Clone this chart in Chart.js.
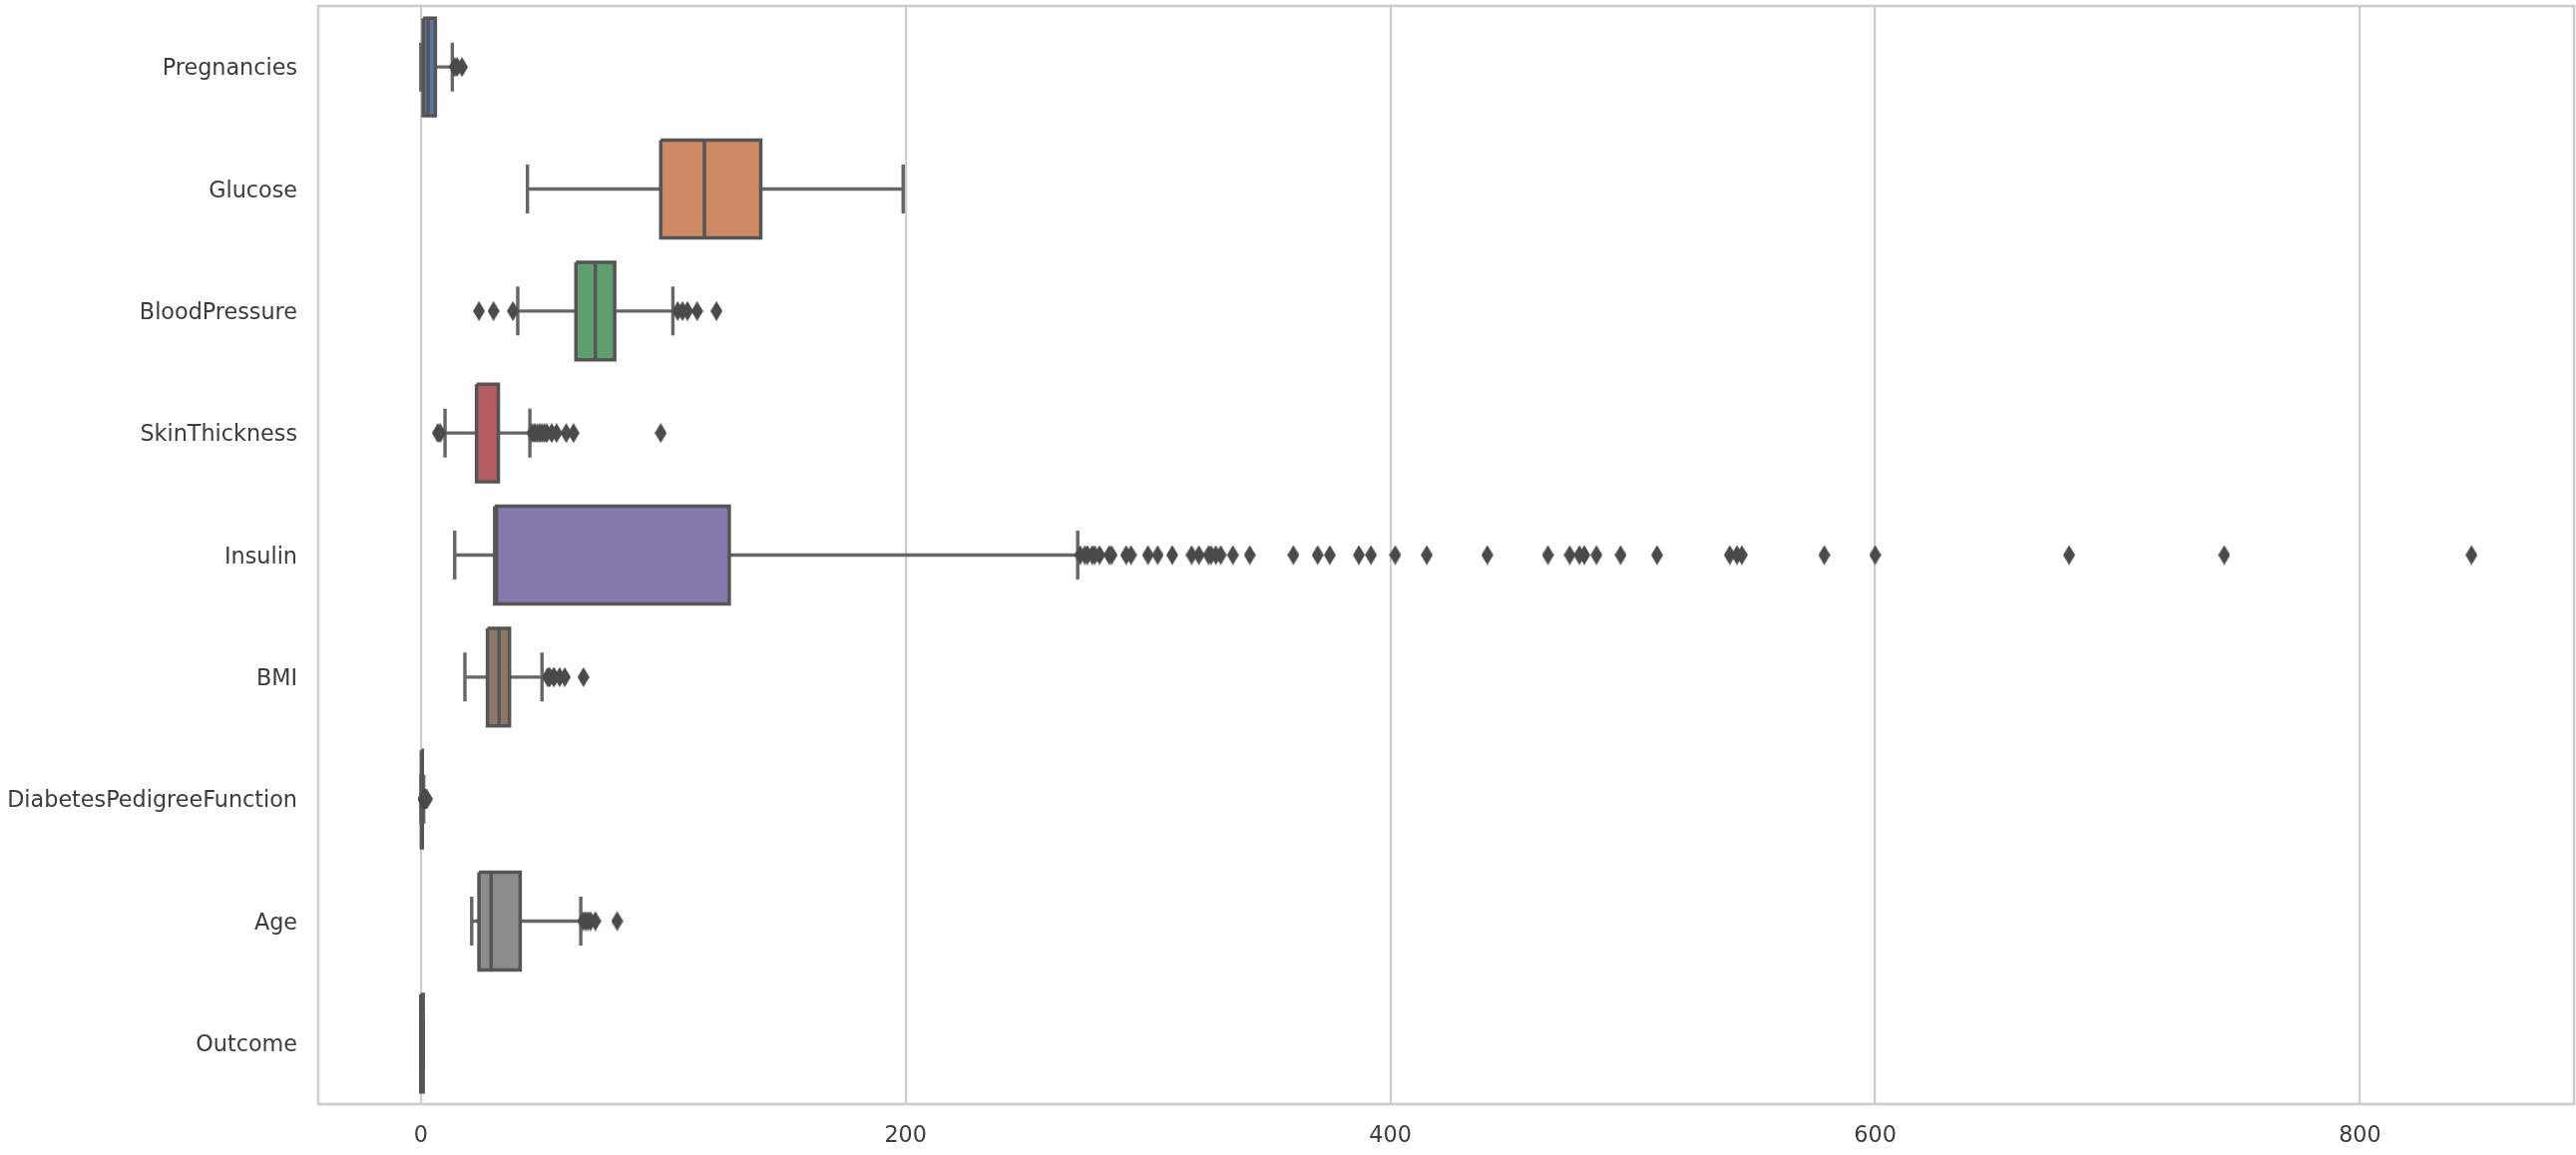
<!DOCTYPE html>
<html>
<head>
<meta charset="utf-8">
<title>Boxplot</title>
<script src="https://cdn.jsdelivr.net/npm/chart.js@4"></script>
<style>
    html, body { margin: 0; padding: 0; background: #fff; }
    canvas { display: block; }
</style>
</head>
<body>
<canvas id="chart" width="2582" height="1158"></canvas>
<script>
const categories = ['Pregnancies', 'Glucose', 'BloodPressure', 'SkinThickness', 'Insulin', 'BMI', 'DiabetesPedigreeFunction', 'Age', 'Outcome'];
const whiskerLow = [0, 44, 40, 10, 14, 18.2, 0.078, 21, 0];
const quart1 = [1, 99, 64, 23, 30.5, 27.5, 0.24, 24, 0];
const median = [3, 117, 72, 23, 31.25, 32.3, 0.37, 29, 0];
const quart3 = [6, 140.25, 80, 32, 127.25, 36.6, 0.63, 41, 1];
const whiskerHigh = [13, 199, 104, 45, 271, 50, 1.19, 66, 1];
const outliers = [
    [14, 15, 17],
    [],
    [24, 30, 38, 106, 108, 110, 114, 122],
    [7, 8, 46, 47, 48, 49, 50, 51, 52, 54, 56, 60, 63, 99],
    [272, 274, 275, 277, 278, 280, 284, 285, 291, 293, 300, 304, 310, 318, 321, 325, 326, 328, 330, 335, 342, 360, 370, 375, 387, 392, 402, 415, 440, 465, 474, 478, 480, 485, 495, 510, 540, 543, 545, 579, 600, 680, 744, 846],
    [52.3, 52.9, 53.2, 54.8, 55, 57.3, 59.4, 67.1],
    [1.2, 1.22, 1.25, 1.28, 1.32, 1.35, 1.39, 1.44, 1.46, 1.48, 1.6, 1.7, 1.73, 1.78, 1.89, 2.14, 2.29, 2.33, 2.42],
    [67, 68, 69, 70, 72, 81],
    []
];
const boxColors = ['#5975a4', '#cc8963', '#5f9e6e', '#b55d60', '#857aab', '#8d7866', '#d095bf', '#8c8c8c', '#c1b37f'];
const xTicks = [0, 200, 400, 600, 800];

const gap = {x: null, y: null};
const boxHalf = 0.4, capHalf = 0.2;

// box outlines and medians, stroked on the middle like the fill edge
const boxLines = categories.flatMap((c, i) => [
    {x: quart1[i], y: i - boxHalf}, {x: quart3[i], y: i - boxHalf},
    {x: quart3[i], y: i + boxHalf}, {x: quart1[i], y: i + boxHalf},
    {x: quart1[i], y: i - boxHalf}, gap,
    {x: median[i], y: i - boxHalf}, {x: median[i], y: i + boxHalf}, gap
]);
const whiskerLines = categories.flatMap((c, i) => [
    {x: whiskerLow[i], y: i}, {x: quart1[i], y: i}, gap,
    {x: quart3[i], y: i}, {x: whiskerHigh[i], y: i}, gap,
    {x: whiskerLow[i], y: i - capHalf}, {x: whiskerLow[i], y: i + capHalf}, gap,
    {x: whiskerHigh[i], y: i - capHalf}, {x: whiskerHigh[i], y: i + capHalf}, gap
]);
const outlierPoints = outliers.flatMap((list, i) => list.map(v => ({x: v, y: i})));

function diamond() {
    const c = document.createElement('canvas');
    c.width = 12; c.height = 20;
    const g = c.getContext('2d');
    g.fillStyle = '#4a4a4a';
    g.beginPath();
    g.moveTo(6, 0); g.lineTo(12, 10); g.lineTo(6, 20); g.lineTo(0, 10);
    g.closePath();
    g.fill();
    return c;
}

// top and right spines too, the scales only give two sides
const frame = {
    id: 'frame',
    beforeDatasetsDraw(chart) {
        const a = chart.chartArea, g = chart.ctx;
        g.save();
        g.strokeStyle = '#cccccc';
        g.lineWidth = 2.6;
        g.strokeRect(a.left, a.top, a.right - a.left, a.bottom - a.top);
        g.restore();
    }
};

const tickFont = {family: '"DejaVu Sans"', size: 22.3};

new Chart(document.getElementById('chart'), {
    type: 'bar',
    plugins: [frame],
    data: {
        datasets: [
            {
                data: categories.map((c, i) => ({x: [quart1[i], quart3[i]], y: i})),
                backgroundColor: boxColors,
                borderWidth: 0,
                barPercentage: 0.8,
                categoryPercentage: 1,
                order: 4
            },
            {
                type: 'scatter', indexAxis: 'x', data: whiskerLines, showLine: true,
                borderColor: '#666666', borderWidth: 3.4, pointRadius: 0, tension: 0,
                order: 3
            },
            {
                type: 'scatter', indexAxis: 'x', data: boxLines, showLine: true,
                borderColor: '#555555', borderWidth: 3.5, borderJoinStyle: 'miter', pointRadius: 0, tension: 0,
                order: 2
            },
            {
                type: 'scatter', indexAxis: 'x', data: outlierPoints,
                pointStyle: diamond(), pointRadius: 6,
                order: 1
            }
        ]
    },
    options: {
        indexAxis: 'y',
        responsive: false,
        animation: false,
        events: [],
        layout: {autoPadding: false, padding: {left: 0, top: 6, right: 2, bottom: 0}},
        plugins: {legend: {display: false}, tooltip: {enabled: false}},
        scales: {
            x: {
                type: 'linear',
                offset: false,
                min: -42.3,
                max: 888.3,
                afterBuildTicks: s => { s.ticks = xTicks.map(v => ({value: v})); },
                afterFit: s => { s.height = 51; s.paddingLeft = 0; s.paddingRight = 0; },
                grid: {color: '#cccccc', lineWidth: 2.2, drawTicks: false, offset: false},
                border: {display: false},
                ticks: {font: tickFont, color: '#3c3c3c', padding: 19, maxRotation: 0}
            },
            y: {
                type: 'linear',
                offset: false,
                min: -0.5,
                max: 8.5,
                reverse: true,
                afterBuildTicks: s => { s.ticks = categories.map((c, i) => ({value: i})); },
                afterFit: s => { s.width = 319; s.paddingTop = 0; s.paddingBottom = 0; },
                grid: {display: false, drawTicks: false},
                border: {display: false},
                ticks: {font: tickFont, color: '#3c3c3c', padding: 21, labelOffset: 2.5, autoSkip: false, callback: v => categories[v]}
            }
        }
    }
});
</script>
</body>
</html>
